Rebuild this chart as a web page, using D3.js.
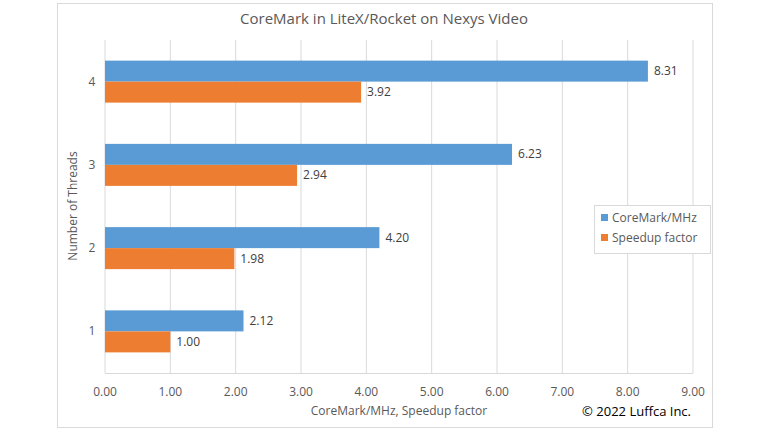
<!DOCTYPE html>
<html><head><meta charset="utf-8">
<script src="https://cdn.jsdelivr.net/npm/d3@7"></script>
<style>body{margin:0;background:#fff;font-family:"Open Sans",sans-serif;}</style>
</head><body>
<script>
var categories = ["1", "2", "3", "4"];
var coremark = [2.12, 4.20, 6.23, 8.31];
var speedup = [1.00, 1.98, 2.94, 3.92];
var seriesNames = ["CoreMark/MHz", "Speedup factor"];
var colors = ["#5b9bd5", "#ed7d31"];
var ticks = [0, 1, 2, 3, 4, 5, 6, 7, 8, 9];

var W = 768, H = 432;
var svg = d3.select("body").append("svg").attr("width", W).attr("height", H);

svg.append("rect").attr("x", 57.5).attr("y", 3.5).attr("width", 655).attr("height", 424)
  .attr("fill", "#fff").attr("stroke", "#d9d9d9");

var x = d3.scaleLinear().domain([0, 9]).range([105, 693]);
var y = d3.scaleBand().domain(categories.slice().reverse()).range([40, 373]);
var bh = 21;

svg.append("g").selectAll("line").data(ticks).join("line")
  .attr("x1", d => x(d)).attr("x2", d => x(d)).attr("y1", 40).attr("y2", 373)
  .attr("stroke", "#d9d9d9");
svg.append("line").attr("x1", x(0)).attr("x2", x(9)).attr("y1", 373.5).attr("y2", 373.5).attr("stroke", "#d9d9d9");

svg.append("g").selectAll("text").data(ticks).join("text")
  .attr("x", d => x(d)).attr("y", 396).attr("text-anchor", "middle")
  .attr("font-size", 12).attr("fill", "#595959").text(d => d.toFixed(2));

svg.append("g").selectAll("text").data(categories).join("text")
  .attr("x", 92).attr("y", d => y(d) + y.bandwidth() / 2 + 4).attr("text-anchor", "middle")
  .attr("font-size", 12).attr("fill", "#595959").text(d => d);

var series = [coremark, speedup];
series.forEach(function (vals, s) {
  var g = svg.append("g");
  g.selectAll("rect").data(vals).join("rect")
    .attr("x", x(0)).attr("width", d => x(d) - x(0))
    .attr("y", (d, i) => y(categories[i]) + y.bandwidth() / 2 - bh + s * bh)
    .attr("height", bh).attr("fill", colors[s]);
  g.selectAll("text").data(vals).join("text")
    .attr("x", d => x(d) + 6)
    .attr("y", (d, i) => y(categories[i]) + y.bandwidth() / 2 - bh + s * bh + bh / 2 + 4)
    .attr("font-size", 12).attr("fill", "#404040").text(d => d.toFixed(2));
});

svg.append("text").attr("x", 384).attr("y", 24).attr("text-anchor", "middle")
  .attr("font-size", 15).attr("fill", "#595959").text("CoreMark in LiteX/Rocket on Nexys Video");
svg.append("text").attr("x", 399).attr("y", 415).attr("text-anchor", "middle")
  .attr("font-size", 12).attr("fill", "#595959").text("CoreMark/MHz, Speedup factor");
svg.append("text").attr("transform", "translate(77,206) rotate(-90)").attr("text-anchor", "middle")
  .attr("font-size", 12).attr("fill", "#595959").text("Number of Threads");
svg.append("text").attr("x", 691).attr("y", 416).attr("text-anchor", "end")
  .attr("font-size", 13).attr("fill", "#000").text("© 2022 Luffca Inc.");

var lg = svg.append("g");
lg.append("rect").attr("x", 594.5).attr("y", 205.5).attr("width", 116).attr("height", 48)
  .attr("fill", "#fff").attr("stroke", "#d9d9d9");
seriesNames.forEach(function (n, i) {
  lg.append("rect").attr("x", 601).attr("y", 214 + i * 20).attr("width", 7).attr("height", 7).attr("fill", colors[i]);
  lg.append("text").attr("x", 612).attr("y", 222 + i * 20).attr("font-size", 12).attr("fill", "#595959").text(n);
});
</script>
</body></html>
